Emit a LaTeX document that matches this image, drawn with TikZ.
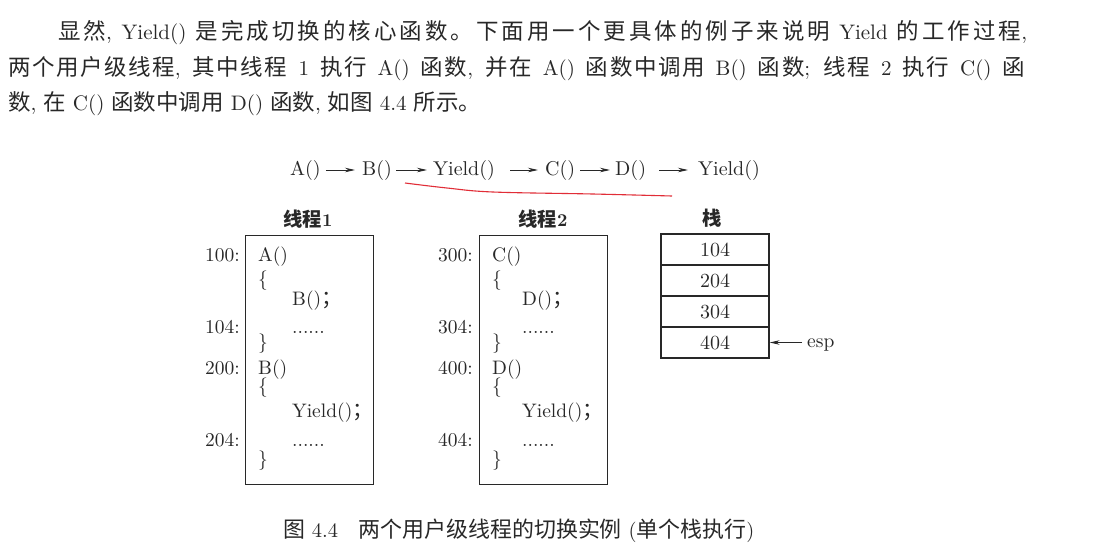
\documentclass[tikz,border=0pt]{standalone}
\usepackage{fontspec}
\setmainfont{lmroman10-regular}[Extension=.otf, BoldFont=lmroman10-bold, ItalicFont=lmroman10-italic]
\newfontfamily\cjk[Scale=1.07]{Noto Sans CJK SC}
\newfontfamily\cjka[Scale=1.07, LetterSpace=13.5]{Noto Sans CJK SC}
\newfontfamily\cjkb[Scale=1.07, LetterSpace=7]{Noto Sans CJK SC}
\usetikzlibrary{arrows.meta}
\definecolor{ink}{RGB}{40,40,40}
\definecolor{redline}{RGB}{225,45,55}
\tikzset{
  ptext/.style={inner sep=0pt, anchor=base west, text=ink, font=\fontsize{21}{25}\selectfont},
  flow/.style={inner sep=0pt, anchor=base west, text=ink, font=\fontsize{20}{24}\selectfont},
  code/.style={inner sep=0pt, anchor=base west, text=ink, font=\fontsize{19.5}{22}\selectfont},
  addr/.style={inner sep=0pt, anchor=base east, text=ink, font=\fontsize{19.5}{22}\selectfont},
  lab/.style={inner sep=0pt, text=ink, font=\fontsize{18}{22}\selectfont\bfseries},
  thread/.style={draw=ink, line width=1.3pt, anchor=north west, inner sep=0pt},
  cell/.style={draw=ink, line width=1.3pt, minimum width=108pt, minimum height=31pt, inner sep=0pt, text=ink, font=\fontsize{20}{22}\selectfont},
  arr/.style={draw=ink, line width=0.9pt, -{Stealth[length=10pt,width=4.5pt]}},
}
\begin{document}
\begin{tikzpicture}[x=1pt,y=-1pt]
\useasboundingbox[fill=white] (0,0) rectangle (1119,555);
% paragraph
\node[ptext] (p1) at (58,39) {\makebox[969pt][s]{{\cjka 显然}, Yield() {\cjka 是完成切换的核心函数。下面用一个更具体的例子来说明} Yield {\cjka 的工作过程},}};
\node[ptext] (p2) at (8,75) {\makebox[1017pt][s]{{\cjkb 两个用户级线程}, {\cjkb 其中线程} 1 {\cjkb 执行} A() {\cjkb 函数}, {\cjkb 并在} A() {\cjkb 函数中调用} B() {\cjkb 函数}; {\cjkb 线程} 2 {\cjkb 执行} C() {\cjk 函}}};
\node[ptext] (p3) at (8,110) {{\cjk 数}, {\cjk 在} C() {\cjk 函数中调用} D() {\cjk 函数}, {\cjk 如图} 4.4 {\cjk 所示。}};
% flow row
\node[flow] (fa) at (290,175) {A()};
\node[flow] (fb) at (362,175) {B()};
\node[flow] (fy1) at (433,175) {Yield()};
\node[flow] (fc) at (545,175) {C()};
\node[flow] (fd) at (615,175) {D()};
\node[flow] (fy2) at (698,175) {Yield()};
\draw[arr, shorten <=5pt, shorten >=7pt] (fa) -- (fb);
\draw[arr, shorten <=4pt, shorten >=6pt] (fb) -- (fy1);
\draw[arr, shorten <=15pt, shorten >=7pt] (fy1) -- (fc);
\draw[arr, shorten <=5pt, shorten >=5pt] (fc) -- (fd);
\draw[arr, shorten <=13pt, shorten >=10pt] (fd) -- (fy2);
% red hand line
\draw[redline, line width=1.1pt] plot[smooth, tension=0.6] coordinates {(405,183) (447,188) (493,192) (593,194) (672,196)};
% labels
\node[lab] (l1) at (308,219) {{\cjk 线程}1};
\node[lab] (l2) at (543,219) {{\cjk 线程}2};
\node[lab] (l3) at (712,218) {{\cjk 栈}};
% thread boxes
\node[thread, minimum width=128pt, minimum height=249pt] (t1) at (245,235) {};
\node[thread, minimum width=128pt, minimum height=249pt] (t2) at (479,235) {};
% thread 1 code
\node[addr] (a100) at (240,261) {100:};
\node[code] (c1a) at (258,261) {A()};
\node[code] (c1b) at (258,285) {\{};
\node[code] (c1c) at (292,305) {B(){\cjk ；}};
\node[addr] (a104) at (240,333) {104:};
\node[code] (c1d) at (292,333) {......};
\node[code] (c1e) at (258,348) {\}};
\node[addr] (a200) at (240,374) {200:};
\node[code] (c1f) at (258,374) {B()};
\node[code] (c1g) at (258,392) {\{};
\node[code] (c1h) at (292,417) {Yield(){\cjk ；}};
\node[addr] (a204) at (240,446) {204:};
\node[code] (c1i) at (292,446) {......};
\node[code] (c1j) at (258,465) {\}};
% thread 2 code
\node[addr] (a300) at (473,261) {300:};
\node[code] (c2a) at (492,261) {C()};
\node[code] (c2b) at (492,285) {\{};
\node[code] (c2c) at (522,305) {D(){\cjk ；}};
\node[addr] (a304) at (473,333) {304:};
\node[code] (c2d) at (522,333) {......};
\node[code] (c2e) at (492,348) {\}};
\node[addr] (a400) at (473,374) {400:};
\node[code] (c2f) at (492,374) {D()};
\node[code] (c2g) at (492,392) {\{};
\node[code] (c2h) at (522,417) {Yield(){\cjk ；}};
\node[addr] (a404) at (473,446) {404:};
\node[code] (c2i) at (522,446) {......};
\node[code] (c2j) at (492,465) {\}};
% stack
\node[cell] (s1) at (715,249.5) {104};
\node[cell] (s2) at (715,280.5) {204};
\node[cell] (s3) at (715,311.5) {304};
\node[cell] (s4) at (715,342.5) {404};
\node[code] (esp) at (807,347) {esp};
\draw[arr] ([xshift=-5pt]esp.west |- s4.east) -- (s4.east);
% caption
\node[ptext, font=\fontsize{20.5}{25}\selectfont] (cap) at (283,537) {{\cjk 图} 4.4\quad {\cjk 两个用户级线程的切换实例} ({\cjk 单个栈执行})};
\end{tikzpicture}
\end{document}
